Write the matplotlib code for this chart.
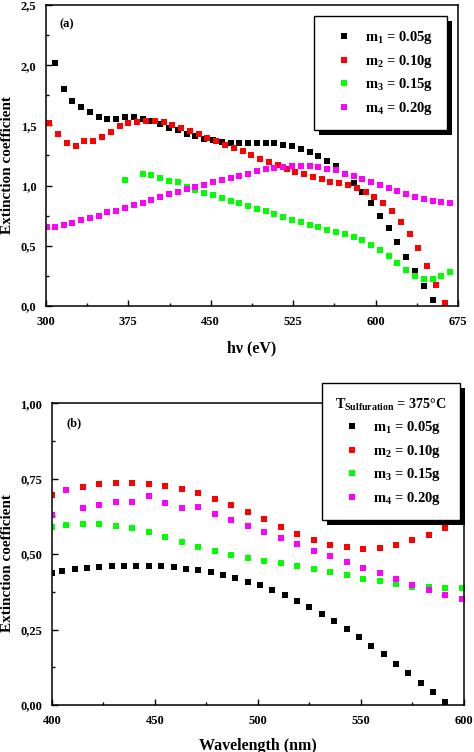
import numpy as np
import matplotlib
matplotlib.use('Agg')
import matplotlib.pyplot as plt
from matplotlib.patches import Rectangle
from matplotlib.ticker import MultipleLocator, FuncFormatter
from matplotlib.transforms import IdentityTransform

plt.rcParams['font.family'] = ['Liberation Serif', 'DejaVu Serif']
plt.rcParams['font.weight'] = 'bold'
plt.rcParams['axes.labelweight'] = 'bold'
plt.rcParams['mathtext.fontset'] = 'custom'
plt.rcParams['mathtext.rm'] = 'Liberation Serif:bold'
plt.rcParams['mathtext.it'] = 'Liberation Serif:bold'
plt.rcParams['mathtext.bf'] = 'Liberation Serif:bold'

labels = ['$m_1$ = 0.05g', '$m_2$ = 0.10g', '$m_3$ = 0.15g', '$m_4$ = 0.20g']
colors = ['#000000', '#ff0000', '#00ff00', '#ff00ff']

# ---- panel (a) data
a_x1 = [308, 316, 324, 332, 340, 348, 356, 364, 372, 380, 388, 396, 404, 412, 420, 428, 436,
        444, 452, 460, 468, 476, 484, 492, 500, 508, 516, 524, 532, 540, 548, 556, 564,
        580, 588, 596, 604, 612, 620, 628, 636, 644, 652]
a_y1 = [2.02, 1.80, 1.70, 1.655, 1.61, 1.57, 1.555, 1.555, 1.57, 1.57, 1.555, 1.535, 1.51,
        1.48, 1.46, 1.43, 1.41, 1.39, 1.375, 1.365, 1.355, 1.355, 1.35, 1.35, 1.35, 1.35,
        1.34, 1.325, 1.305, 1.28, 1.245, 1.205, 1.16,
        1.025, 0.945, 0.856, 0.75, 0.646, 0.533, 0.409, 0.29, 0.166, 0.052]

a_x2 = [303, 311, 319, 327, 335, 343, 351, 359, 367, 375, 383, 391, 399, 407, 415, 423, 431,
        439, 447, 455, 463, 471, 479, 487, 495, 503, 511, 519, 527, 535, 543, 551, 559, 567,
        575, 583, 591, 599, 607, 615, 623, 631, 639, 647, 655, 663]
a_y2 = [1.517, 1.425, 1.354, 1.329, 1.37, 1.37, 1.403, 1.445, 1.492, 1.522, 1.53, 1.539,
        1.539, 1.525, 1.506, 1.48, 1.453, 1.425, 1.398, 1.367, 1.34, 1.312, 1.285, 1.251,
        1.221, 1.193, 1.168, 1.138, 1.11, 1.094, 1.072, 1.052, 1.03, 1.022, 1.003, 0.98,
        0.945, 0.909, 0.856, 0.79, 0.699, 0.594, 0.478, 0.334, 0.177, 0.022]

a_x3 = [372, 388, 396, 404, 412, 420, 428, 436, 444, 452, 460, 468, 476, 484, 492, 500, 508,
        516, 524, 532, 540, 548, 556, 564, 572, 580, 588, 596, 604, 612, 620, 628, 636, 644,
        652, 660, 668]
a_y3 = [1.044, 1.099, 1.091, 1.066, 1.036, 1.030, 0.989, 0.963, 0.942, 0.920, 0.898, 0.876,
        0.854, 0.831, 0.807, 0.785, 0.762, 0.740, 0.718, 0.696, 0.674, 0.652, 0.632, 0.615,
        0.594, 0.572, 0.544, 0.506, 0.464, 0.414, 0.354, 0.298, 0.249, 0.221, 0.221, 0.245,
        0.285]

a_x4 = [301, 308, 316, 324, 332, 340, 348, 356, 364, 372, 380, 388, 396, 404, 412, 420, 428,
        436, 444, 452, 460, 468, 476, 484, 492, 500, 508, 516, 524, 532, 540, 548, 556, 564,
        572, 580, 588, 596, 604, 612, 620, 628, 636, 644, 652, 660, 668]
a_y4 = [0.657, 0.657, 0.671, 0.69, 0.713, 0.727, 0.751, 0.782, 0.787, 0.815, 0.837, 0.859,
        0.884, 0.906, 0.934, 0.947, 0.97, 0.989, 1.008, 1.028, 1.044, 1.061, 1.08, 1.099,
        1.119, 1.135, 1.146, 1.157, 1.163, 1.163, 1.163, 1.157, 1.141, 1.127, 1.099, 1.077,
        1.055, 1.03, 1.008, 0.983, 0.959, 0.934, 0.906, 0.887, 0.873, 0.865, 0.859]

# ---- panel (b) data
b_x1 = [400, 405, 411, 417, 423, 429, 435, 441, 447, 453, 459, 465, 471, 477, 483, 489, 495,
        501, 507, 513, 519, 525, 531, 537, 543, 549, 555, 561, 567, 573, 579, 585, 591]
b_y1 = [0.436, 0.443, 0.45, 0.455, 0.457, 0.46, 0.462, 0.462, 0.462, 0.461, 0.457, 0.452,
        0.448, 0.44, 0.431, 0.422, 0.409, 0.397, 0.381, 0.365, 0.346, 0.325, 0.302, 0.28,
        0.253, 0.225, 0.197, 0.168, 0.136, 0.105, 0.072, 0.042, 0.011]

b_x2 = [400, 415, 423, 431, 439, 447, 455, 463, 471, 479, 487, 495, 503, 511, 519, 527, 535,
        543, 551, 559, 567, 575, 583, 591]
b_y2 = [0.696, 0.724, 0.731, 0.736, 0.737, 0.734, 0.727, 0.716, 0.702, 0.684, 0.664, 0.641,
        0.617, 0.591, 0.568, 0.548, 0.531, 0.523, 0.518, 0.52, 0.531, 0.546, 0.565, 0.588]

b_x3 = [400, 407, 415, 423, 431, 439, 447, 455, 463, 471, 479, 487, 495, 503, 511, 519, 527,
        535, 543, 551, 559, 567, 575, 583, 591, 599]
b_y3 = [0.589, 0.596, 0.6, 0.599, 0.593, 0.586, 0.572, 0.558, 0.54, 0.525, 0.51, 0.498,
        0.487, 0.477, 0.47, 0.461, 0.451, 0.44, 0.43, 0.419, 0.41, 0.4, 0.392, 0.39, 0.387,
        0.387]

b_x4 = b_x3
b_y4 = [0.63, 0.712, 0.652, 0.662, 0.672, 0.674, 0.694, 0.671, 0.653, 0.656, 0.632, 0.612,
        0.594, 0.573, 0.555, 0.534, 0.512, 0.495, 0.473, 0.455, 0.436, 0.418, 0.399, 0.381,
        0.365, 0.351]


def comma(dec):
    return FuncFormatter(lambda v, p: f'{v:.{dec}f}'.replace('.', ','))


def style_axes(ax):
    for s in ax.spines.values():
        s.set_linewidth(1.1)
    ax.tick_params(which='both', direction='in', labelsize=9, pad=7, width=1.0)
    ax.tick_params(which='major', length=4)
    ax.tick_params(which='minor', length=2.5)
    for t in ax.get_xticklabels() + ax.get_yticklabels():
        t.set_fontweight('bold')


def add_shadow(fig, ax, leg, off=5):
    fig.canvas.draw()
    bb = leg.get_frame().get_window_extent()
    ax.add_patch(Rectangle((bb.x0 + off, bb.y0 - off), bb.width, bb.height,
                           transform=IdentityTransform(), facecolor='black',
                           edgecolor='none', zorder=4.9, clip_on=False))


fig = plt.figure(figsize=(4.74, 7.52), dpi=100)

# panel (a)
ax1 = fig.add_axes([0.097, 0.5931, 0.869, 0.4003])
for xs, ys, c, lab in zip([a_x1, a_x2, a_x3, a_x4], [a_y1, a_y2, a_y3, a_y4], colors, labels):
    ax1.plot(xs, ys, 's', color=c, ms=4.4, mew=0, label=lab)
ax1.set_xlim(300, 675)
ax1.set_ylim(0, 2.5)
ax1.xaxis.set_major_locator(MultipleLocator(75))
ax1.xaxis.set_minor_locator(MultipleLocator(37.5))
ax1.yaxis.set_major_locator(MultipleLocator(0.5))
ax1.yaxis.set_minor_locator(MultipleLocator(0.25))
ax1.yaxis.set_major_formatter(comma(1))
style_axes(ax1)
ax1.set_xlabel('hν (eV)', fontsize=11.5)
ax1.set_ylabel('Extinction coefficient', fontsize=11)
ax1.xaxis.set_label_coords(0.5, -0.113)
ax1.yaxis.set_label_coords(-0.078, 0.47)
ax1.text(0.034, 0.935, '(a)', transform=ax1.transAxes, fontsize=9, fontweight='bold',
         va='center')
leg1 = ax1.legend(loc='upper right', bbox_to_anchor=(0.973, 0.963), numpoints=1,
                  fontsize=10.5, markerscale=1.0, borderpad=0.9, handlelength=2.3,
                  handletextpad=0.3, labelspacing=0.45, fancybox=False, framealpha=1,
                  edgecolor='black', borderaxespad=0)
leg1.get_frame().set_linewidth(1.0)

# panel (b)
ax2 = fig.add_axes([0.1097, 0.0625, 0.8692, 0.4012])
for xs, ys, c, lab in zip([b_x1, b_x2, b_x3, b_x4], [b_y1, b_y2, b_y3, b_y4], colors, labels):
    ax2.plot(xs, ys, 's', color=c, ms=4.6, mew=0, label=lab)
ax2.set_xlim(400, 600)
ax2.set_ylim(0, 1.0)
ax2.xaxis.set_major_locator(MultipleLocator(50))
ax2.xaxis.set_minor_locator(MultipleLocator(25))
ax2.yaxis.set_major_locator(MultipleLocator(0.25))
ax2.yaxis.set_minor_locator(MultipleLocator(0.125))
ax2.yaxis.set_major_formatter(comma(2))
style_axes(ax2)
ax2.set_xlabel('Wavelength (nm)', fontsize=11.5)
ax2.set_ylabel('Extinction coefficient', fontsize=11)
ax2.xaxis.set_label_coords(0.5, -0.11)
ax2.yaxis.set_label_coords(-0.092, 0.47)
ax2.text(0.036, 0.935, '(b)', transform=ax2.transAxes, fontsize=9, fontweight='bold',
         va='center')
leg2 = ax2.legend(loc='upper right', bbox_to_anchor=(0.990, 1.066), numpoints=1,
                  fontsize=10.5, borderpad=0.9, handlelength=2.3, handletextpad=0.3,
                  labelspacing=0.45, fancybox=False, framealpha=1, edgecolor='black',
                  borderaxespad=0, title='$T_{Sulfuration}$ = 375°C', alignment='left',
                  title_fontproperties={'size': 10.2, 'weight': 'bold'})
leg2.get_frame().set_linewidth(1.0)

add_shadow(fig, ax1, leg1)
add_shadow(fig, ax2, leg2)

fig.savefig('out.png', dpi=100)
